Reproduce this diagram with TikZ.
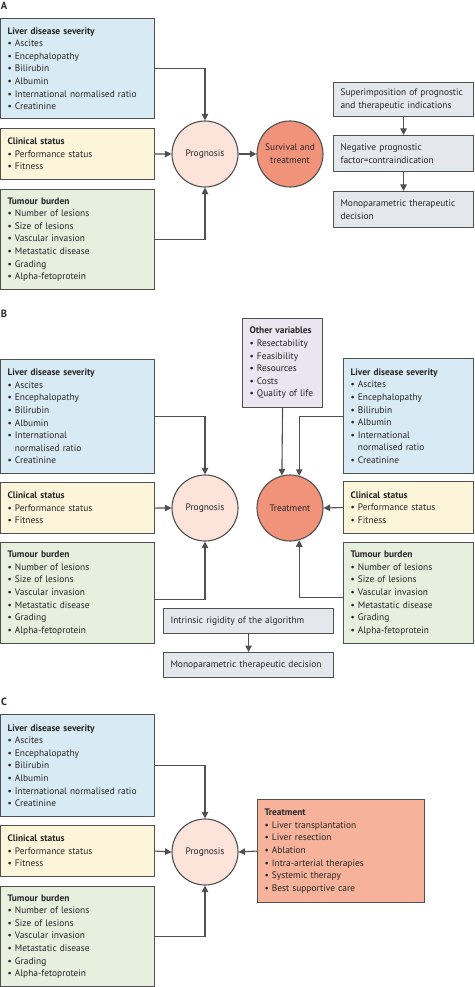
\documentclass[tikz,border=0pt]{standalone}
\usepackage{fontspec}
\setmainfont{PT Sans}
\usetikzlibrary{arrows.meta}
\definecolor{liverc}{HTML}{D8EAF4}
\definecolor{clinc}{HTML}{FDF5D9}
\definecolor{tumc}{HTML}{E7EFDF}
\definecolor{grayc}{HTML}{E4E7EB}
\definecolor{otherc}{HTML}{E9E5F1}
\definecolor{progc}{HTML}{FCE4DA}
\definecolor{survc}{HTML}{F1937B}
\definecolor{treatc}{HTML}{F6B29A}
\definecolor{bordc}{HTML}{505050}
\definecolor{txtc}{HTML}{262626}
\tikzset{
  box/.style={draw=bordc, line width=1.1pt, rectangle, anchor=north west,
    inner xsep=7pt, inner ysep=0pt, align=left, text=txtc,
    font=\fontsize{9.4}{12.6}\selectfont},
  circ/.style={draw=bordc, line width=1.1pt, circle, minimum size=66pt,
    inner sep=0pt, align=center, text=txtc, font=\fontsize{9.4}{12.6}\selectfont},
  arr/.style={draw=bordc, line width=1.1pt, -{Triangle[length=6.5pt,width=6.5pt]}},
  lbl/.style={font=\fontsize{10.5}{12}\selectfont\bfseries, text=txtc, inner sep=0pt}
}
\newcommand{\bt}{\textbullet\ }
\newcommand{\ind}{\hphantom{\textbullet\ }}
\begin{document}
\begin{tikzpicture}[x=1pt,y=-1pt]
\useasboundingbox (0,0) rectangle (474,987);
% ---------- Panel A ----------
\node[lbl] (labA) at (4,6) {A};
\node[box, fill=liverc, minimum height=100pt, text width=140pt] (liverA) at (0,18)
 {\textbf{Liver disease severity}\\\bt Ascites\\\bt Encephalopathy\\\bt Bilirubin\\\bt Albumin\\\bt International normalised ratio\\\bt Creatinine};
\node[box, fill=clinc, minimum height=51pt, text width=140pt] (clinA) at (0,128)
 {\textbf{Clinical status}\\\bt Performance status\\\bt Fitness};
\node[box, fill=tumc, minimum height=100pt, text width=140pt] (tumA) at (0,189)
 {\textbf{Tumour burden}\\\bt Number of lesions\\\bt Size of lesions\\\bt Vascular invasion\\\bt Metastatic disease\\\bt Grading\\\bt Alpha-fetoprotein};
\node[circ, fill=progc] (progA) at (205,154) {Prognosis};
\node[circ, fill=survc] (survA) at (290,154) {Survival and\\treatment};
\node[box, fill=grayc, minimum height=34pt, text width=126pt] (supA) at (333,82)
 {Superimposition of prognostic\\and therapeutic indications};
\node[box, fill=grayc, minimum height=36pt, text width=126pt] (negA) at (333,135)
 {Negative prognostic\\factor=contraindication};
\node[box, fill=grayc, minimum height=36pt, text width=126pt] (monoA) at (333,191)
 {Monoparametric therapeutic\\decision};
\draw[arr] (liverA.east) -| (progA.north);
\draw[arr] (clinA.east) -- (progA.west);
\draw[arr] (tumA.east) -| (progA.south);
\draw[arr] (progA) -- (survA);
\draw[arr] (supA) -- (negA);
\draw[arr] (negA) -- (monoA);
% ---------- Panel B ----------
\node[lbl] (labB) at (4,314) {B};
\node[box, fill=liverc, minimum height=114pt, text width=140pt] (liverB) at (0,359)
 {\textbf{Liver disease severity}\\\bt Ascites\\\bt Encephalopathy\\\bt Bilirubin\\\bt Albumin\\\bt International\\\ind normalised ratio\\\bt Creatinine};
\node[box, fill=clinc, minimum height=51pt, text width=140pt] (clinB) at (0,482)
 {\textbf{Clinical status}\\\bt Performance status\\\bt Fitness};
\node[box, fill=tumc, minimum height=101pt, text width=140pt] (tumB) at (0,542)
 {\textbf{Tumour burden}\\\bt Number of lesions\\\bt Size of lesions\\\bt Vascular invasion\\\bt Metastatic disease\\\bt Grading\\\bt Alpha-fetoprotein};
\node[circ, fill=progc] (progB) at (205,508) {Prognosis};
\node[circ, fill=survc] (treatB) at (290,508) {Treatment};
\node[box, fill=otherc, minimum height=89pt, text width=66pt] (otherB) at (242,318)
 {\textbf{Other variables}\\\bt Resectability\\\bt Feasibility\\\bt Resources\\\bt Costs\\\bt Quality of life};
\node[box, fill=liverc, minimum height=115pt, text width=116pt] (liverR) at (343,358)
 {\textbf{Liver disease severity}\\\bt Ascites\\\bt Encephalopathy\\\bt Bilirubin\\\bt Albumin\\\bt International\\\ind normalised ratio\\\bt Creatinine};
\node[box, fill=clinc, minimum height=52pt, text width=116pt] (clinR) at (343,481)
 {\textbf{Clinical status}\\\bt Performance status\\\bt Fitness};
\node[box, fill=tumc, minimum height=101pt, text width=116pt] (tumR) at (343,542)
 {\textbf{Tumour burden}\\\bt Number of lesions\\\bt Size of lesions\\\bt Vascular invasion\\\bt Metastatic disease\\\bt Grading\\\bt Alpha-fetoprotein};
\node[box, fill=grayc, minimum height=25pt, text width=156pt] (intrB) at (163,608)
 {Intrinsic rigidity of the algorithm};
\node[box, fill=grayc, minimum height=25pt, text width=156pt] (monoB) at (163,652)
 {Monoparametric therapeutic decision};
\draw[arr] (liverB.east) -| (progB.north);
\draw[arr] (clinB.east) -- (progB.west);
\draw[arr] ([yshift=-6pt]tumB.east) -| (progB.south);
\draw[arr] (otherB.south) -- (treatB.104);
\draw[arr] (liverR.west) -| (treatB.74);
\draw[arr] (clinR.west) -- (treatB.east);
\draw[arr] ([yshift=-4.5pt]tumR.west) -| (treatB.-74);
\draw[arr] (intrB.south) -- (monoB.north);
% ---------- Panel C ----------
\node[lbl] (labC) at (4,702) {C};
\node[box, fill=liverc, minimum height=102pt, text width=140pt] (liverC) at (0,714)
 {\textbf{Liver disease severity}\\\bt Ascites\\\bt Encephalopathy\\\bt Bilirubin\\\bt Albumin\\\bt International normalised ratio\\\bt Creatinine};
\node[box, fill=clinc, minimum height=51pt, text width=140pt] (clinC) at (0,825)
 {\textbf{Clinical status}\\\bt Performance status\\\bt Fitness};
\node[box, fill=tumc, minimum height=100pt, text width=140pt] (tumC) at (0,886)
 {\textbf{Tumour burden}\\\bt Number of lesions\\\bt Size of lesions\\\bt Vascular invasion\\\bt Metastatic disease\\\bt Grading\\\bt Alpha-fetoprotein};
\node[circ, fill=progc] (progC) at (205,852) {Prognosis};
\node[box, fill=treatc, minimum height=103pt, text width=153pt] (treatC) at (257,799)
 {\textbf{Treatment}\\\bt Liver transplantation\\\bt Liver resection\\\bt Ablation\\\bt Intra-arterial therapies\\\bt Systemic therapy\\\bt Best supportive care};
\draw[arr] (liverC.east) -| (progC.north);
\draw[arr] (clinC.east) -- (progC.west);
\draw[arr] (tumC.east) -| (progC.south);
\draw[arr] (treatC.west) -- (progC.east);
\end{tikzpicture}
\end{document}
